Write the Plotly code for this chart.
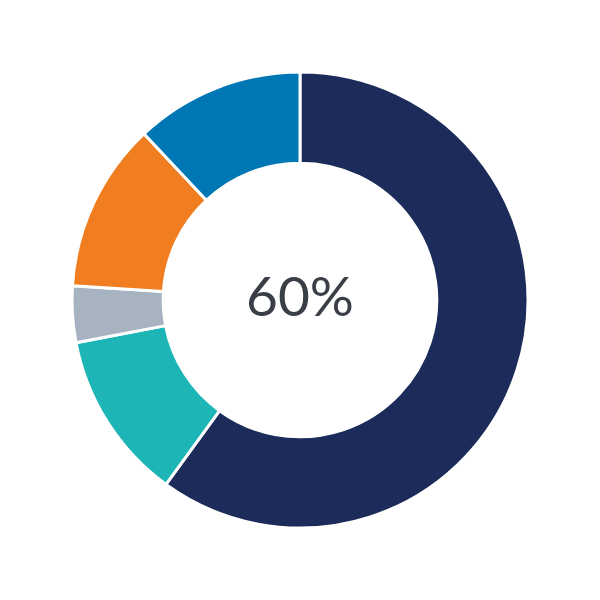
import plotly.graph_objects as go

labels = ["Navy", "Teal", "Gray", "Orange", "Blue"]
values = [60, 12, 4, 12, 12]
colors = ["#1c2b5a", "#1db5b6", "#a8b3c2", "#f07e20", "#0077b5"]
center_text = "60%"

fig = go.Figure(go.Pie(
    labels=labels,
    values=values,
    hole=0.6,
    sort=False,
    direction="clockwise",
    rotation=0,
    textinfo="none",
    hoverinfo="label+percent",
    marker=dict(colors=colors, line=dict(color="white", width=3)),
    showlegend=False,
))

# page has an 8px body offset, so shift the pie up/left
fig.add_annotation(
    text=center_text, x=0.5, y=0.51, xref="paper", yref="paper",
    showarrow=False, font=dict(family="Lato", size=55, color="#3a3f47"),
)

fig.update_layout(
    width=600, height=600,
    margin=dict(l=64, r=80, t=64, b=80),
    paper_bgcolor="white",
)

fig.write_html("out.html")
